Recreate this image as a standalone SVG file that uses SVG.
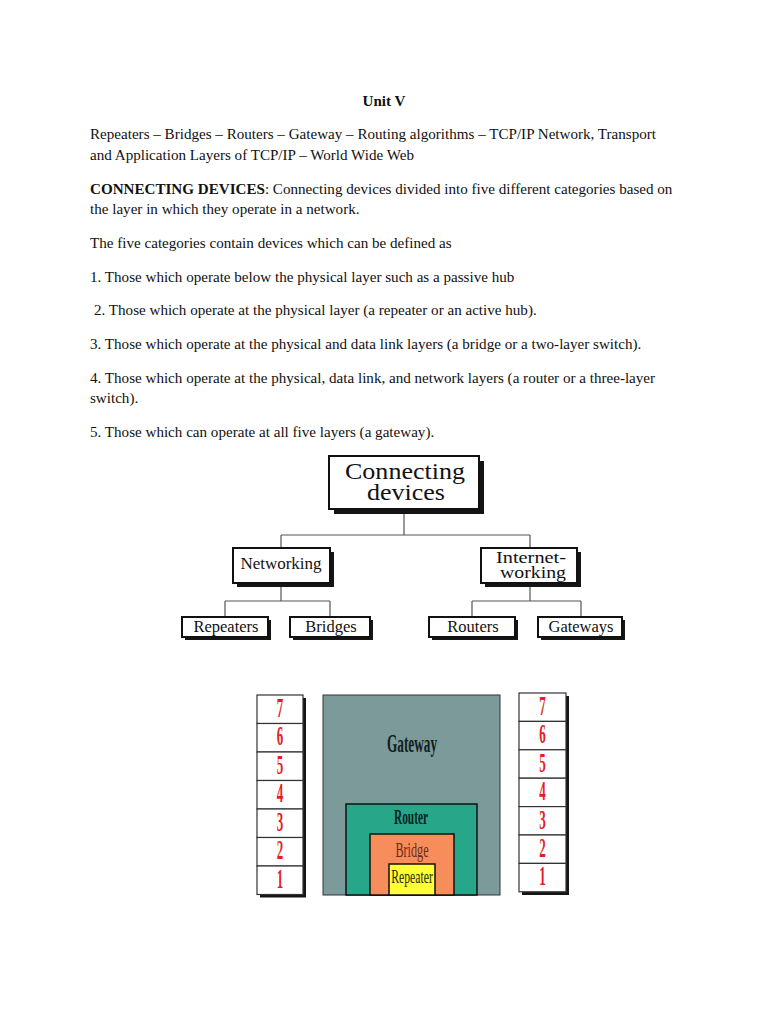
<svg xmlns="http://www.w3.org/2000/svg" width="768" height="1024" viewBox="0 0 768 1024">
<style>
.body{font-family:"Liberation Serif","Times New Roman",serif;font-size:15.1px;fill:#111}
.b{font-weight:bold}
.tb{font-family:"Liberation Serif","Times New Roman",serif;fill:#111;text-anchor:middle}
.box{fill:#fff;stroke:#111;stroke-width:2}
.sh{fill:#151515}
.conn{fill:none;stroke:#555;stroke-width:1.2}
.cell{fill:#fff;stroke:#333;stroke-width:1.2}
.num{font-family:"Liberation Serif","Times New Roman",serif;font-size:27px;font-weight:bold;fill:#e31e24;text-anchor:middle}
.lay{font-family:"Liberation Serif","Times New Roman",serif;text-anchor:middle}
</style>
<rect width="768" height="1024" fill="#fff"/>
<g id="text">
<text class="body b" x="384" y="106" text-anchor="middle">Unit V</text>
<text class="body" x="90" y="139">Repeaters – Bridges – Routers – Gateway – Routing algorithms – TCP/IP Network, Transport</text>
<text class="body" x="90" y="160">and Application Layers of TCP/IP – World Wide Web</text>
<text class="body" x="90" y="194"><tspan class="b">CONNECTING DEVICES</tspan>:  Connecting devices divided into five different categories based on</text>
<text class="body" x="90" y="214">the layer in which they operate in a network.</text>
<text class="body" x="90" y="248">The five categories contain devices which can be defined as</text>
<text class="body" x="90" y="282">1. Those which operate below the physical layer such as a passive hub</text>
<text class="body" x="94" y="315">2. Those which operate at the physical layer (a repeater or an active hub).</text>
<text class="body" x="90" y="349">3. Those which operate at the physical and data link layers (a bridge or a two-layer switch).</text>
<text class="body" x="90" y="383">4. Those which operate at the physical, data link, and network layers (a router or a three-layer</text>
<text class="body" x="90" y="403">switch).</text>
<text class="body" x="90" y="437">5. Those which can operate at all five layers (a gateway).</text>
</g>
<g id="connectors">
<path class="conn" d="M404 509V535M281 535H530M281 535V548M530 535V548"/>
<path class="conn" d="M281 583V601M225 601H330M225 601V617M330 601V617"/>
<path class="conn" d="M530 583V601M472 601H581M472 601V617M581 601V617"/>
</g>
<g id="connecting-devices">
<rect class="sh" x="334" y="461" width="150" height="53"/>
<rect class="box" x="329" y="456" width="150" height="53"/>
<text class="tb" x="405" y="479" font-size="24" textLength="120" lengthAdjust="spacingAndGlyphs">Connecting</text>
<text class="tb" x="406" y="500" font-size="24" textLength="78" lengthAdjust="spacingAndGlyphs">devices</text>
</g>
<g id="networking">
<rect class="sh" x="237" y="552" width="97" height="35"/>
<rect class="box" x="233" y="548" width="97" height="35"/>
<text class="tb" x="281" y="569" font-size="17">Networking</text>
</g>
<g id="internetworking">
<rect class="sh" x="485" y="552" width="96" height="35"/>
<rect class="box" x="481" y="548" width="96" height="35"/>
<text class="tb" x="531" y="563" font-size="16.5" textLength="70" lengthAdjust="spacingAndGlyphs">Internet-</text>
<text class="tb" x="533" y="578" font-size="16.5" textLength="66" lengthAdjust="spacingAndGlyphs">working</text>
</g>
<g id="repeaters">
<rect class="sh" x="185" y="620" width="86" height="20"/>
<rect class="box" x="182" y="617" width="86" height="20"/>
<text class="tb" x="226" y="632" font-size="16.5">Repeaters</text>
</g>
<g id="bridges">
<rect class="sh" x="293" y="620" width="80" height="20"/>
<rect class="box" x="290" y="617" width="80" height="20"/>
<text class="tb" x="331" y="632" font-size="16.5">Bridges</text>
</g>
<g id="routers">
<rect class="sh" x="432" y="620" width="86" height="20"/>
<rect class="box" x="429" y="617" width="86" height="20"/>
<text class="tb" x="473" y="632" font-size="16.5">Routers</text>
</g>
<g id="gateways">
<rect class="sh" x="541" y="620" width="84" height="20"/>
<rect class="box" x="538" y="617" width="84" height="20"/>
<text class="tb" x="581" y="632" font-size="16.5">Gateways</text>
</g>
<g id="left-stack">
<rect class="sh" x="260" y="698" width="46" height="199.5"/>
<rect class="cell" x="257" y="695" width="46" height="28.5"/>
<rect class="cell" x="257" y="723.5" width="46" height="28.5"/>
<rect class="cell" x="257" y="752" width="46" height="28.5"/>
<rect class="cell" x="257" y="780.5" width="46" height="28.5"/>
<rect class="cell" x="257" y="809" width="46" height="28.5"/>
<rect class="cell" x="257" y="837.5" width="46" height="28.5"/>
<rect class="cell" x="257" y="866" width="46" height="28.5"/>
<g transform="translate(280 0) scale(0.48 1)">
<text class="num" x="0" y="717">7</text>
<text class="num" x="0" y="745.5">6</text>
<text class="num" x="0" y="774">5</text>
<text class="num" x="0" y="802.5">4</text>
<text class="num" x="0" y="831">3</text>
<text class="num" x="0" y="859.5">2</text>
<text class="num" x="0" y="888">1</text>
</g>
</g>
<g id="right-stack">
<rect class="sh" x="522" y="696" width="47" height="199"/>
<rect class="cell" x="519" y="693" width="47" height="28.4"/>
<rect class="cell" x="519" y="721.4" width="47" height="28.4"/>
<rect class="cell" x="519" y="749.8" width="47" height="28.4"/>
<rect class="cell" x="519" y="778.2" width="47" height="28.4"/>
<rect class="cell" x="519" y="806.6" width="47" height="28.4"/>
<rect class="cell" x="519" y="835" width="47" height="28.4"/>
<rect class="cell" x="519" y="863.4" width="47" height="28.4"/>
<g transform="translate(542.5 0) scale(0.48 1)">
<text class="num" x="0" y="715">7</text>
<text class="num" x="0" y="743.4">6</text>
<text class="num" x="0" y="771.8">5</text>
<text class="num" x="0" y="800.2">4</text>
<text class="num" x="0" y="828.6">3</text>
<text class="num" x="0" y="857">2</text>
<text class="num" x="0" y="885.4">1</text>
</g>
</g>
<g id="gateway">
<rect x="323" y="695" width="177" height="200" fill="#7d9a9b" stroke="#333" stroke-width="1"/>
<text class="lay" transform="translate(412 752) scale(0.53 1)" font-size="25" font-weight="bold" fill="#102020">Gateway</text>
</g>
<g id="router">
<rect x="346" y="804" width="131" height="91" fill="#27a68a" stroke="#111" stroke-width="1.5"/>
<text class="lay" transform="translate(411 824) scale(0.57 1)" font-size="20" font-weight="bold" fill="#0a2222">Router</text>
</g>
<g id="bridge">
<rect x="370" y="834" width="84" height="61" fill="#f88d5c" stroke="#111" stroke-width="1.5"/>
<text class="lay" transform="translate(412 857) scale(0.58 1)" font-size="21" fill="#6a2a14">Bridge</text>
</g>
<g id="repeater">
<rect x="389" y="864" width="46" height="31" fill="#ffff33" stroke="#111" stroke-width="1.5"/>
<text class="lay" transform="translate(412 883) scale(0.6 1)" font-size="19.5" fill="#1a2a00">Repeater</text>
</g>
</svg>
